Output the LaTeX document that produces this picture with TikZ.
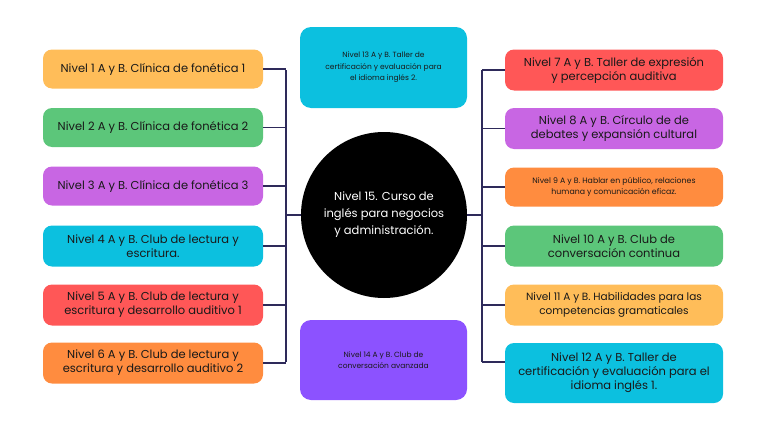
\documentclass[tikz,border=0pt]{standalone}
\usepackage{fontspec}
\setmainfont{Poppins}
\definecolor{cyel}{HTML}{FFBD59}
\definecolor{cgrn}{HTML}{5CC67A}
\definecolor{cpur}{HTML}{C866E3}
\definecolor{ccya}{HTML}{0CC0DF}
\definecolor{cred}{HTML}{FF5757}
\definecolor{cora}{HTML}{FF8C3F}
\definecolor{cvio}{HTML}{8C52FF}
\definecolor{cline}{HTML}{2E2A5A}
\tikzset{
 box/.style={rounded corners=9pt, minimum width=220pt, align=center, inner sep=2pt, font=\fontsize{11.5}{14}\selectfont, text=black!90},
 cbox/.style={rounded corners=11pt, minimum width=167pt, minimum height=81pt, align=center, font=\fontsize{7.5}{11.5}\selectfont, text=black!90},
 link/.style={draw=cline, line width=1.2pt}
}
\begin{document}
\begin{tikzpicture}[x=1pt,y=-1pt]
\useasboundingbox (0,0) rectangle (768,431);
\node[box,fill=cyel,minimum height=39pt] (l1) at (153,69) {Nivel 1 A y B. Clínica de fonética 1};
\node[box,fill=cgrn,minimum height=39pt] (l2) at (153,127.5) {Nivel 2 A y B. Clínica de fonética 2};
\node[box,fill=cpur,minimum height=39pt] (l3) at (153,186) {Nivel 3 A y B. Clínica de fonética 3};
\node[box,fill=ccya,minimum height=41pt] (l4) at (153,246) {Nivel 4 A y B. Club de lectura y\\escritura.};
\node[box,fill=cred,minimum height=41pt] (l5) at (153,305) {Nivel 5 A y B. Club de lectura y\\escritura y desarrollo auditivo 1};
\node[box,fill=cora,minimum height=41pt] (l6) at (153,363) {Nivel 6 A y B. Club de lectura y\\escritura y desarrollo auditivo 2};
\node[box,fill=cred,minimum height=41pt,minimum width=218pt] (r1) at (614,70) {Nivel 7 A y B. Taller de expresión\\y percepción auditiva};
\node[box,fill=cpur,minimum height=41pt,minimum width=218pt] (r2) at (614,128.5) {Nivel 8 A y B. Círculo de de\\debates y expansión cultural};
\node[box,fill=cora,minimum height=39pt,minimum width=218pt,font=\fontsize{7.8}{11}\selectfont] (r3) at (614,187) {Nivel 9 A y B. Hablar en público, relaciones\\humana y comunicación eficaz.};
\node[box,fill=cgrn,minimum height=41pt,minimum width=218pt] (r4) at (614,246) {Nivel 10 A y B. Club de\\conversación continua};
\node[box,fill=cyel,minimum height=41pt,minimum width=218pt,font=\fontsize{10.5}{14}\selectfont] (r5) at (614,305) {Nivel 11 A y B. Habilidades para las\\competencias gramaticales};
\node[box,fill=ccya,minimum height=60pt,minimum width=218pt] (r6) at (614,373) {Nivel 12 A y B. Taller de\\certificación y evaluación para el\\idioma inglés 1.};
\node[cbox,fill=ccya] (t) at (383.5,67.5) {Nivel 13 A y B. Taller de\\certificación y evaluación para\\el idioma inglés 2.};
\node[cbox,fill=cvio,minimum height=80pt] (b) at (383.5,360) {Nivel 14 A y B. Club de\\conversación avanzada};
\node[circle,fill=black,minimum size=166pt,inner sep=0pt,align=center,text=white,font=\fontsize{11.5}{17}\selectfont] (c) at (384,215) {Nivel 15. Curso de\\inglés para negocios\\y administración.};
\coordinate (lb1) at (286,70); \coordinate (lb2) at (286,362);
\coordinate (rb1) at (482,70); \coordinate (rb2) at (482,362);
\draw[link] (lb1) -- (lb2); \draw[link] (rb1) -- (rb2);
\foreach \n in {l1,l2,l3,l4,l5,l6} \draw[link] (\n.east) -- (\n.east -| lb1);
\draw[link] (l6.east) ++(0,0) coordinate (tmp);
\foreach \n in {r1,r2,r3,r4,r5} \draw[link] (\n.west) -- (\n.west -| rb1);
\draw[link] (rb2) -- (rb2 -| r6.west);
\draw[link] (c.west) -- (c.west -| lb1);
\draw[link] (c.east) -- (c.east -| rb1);
\end{tikzpicture}
\end{document}
